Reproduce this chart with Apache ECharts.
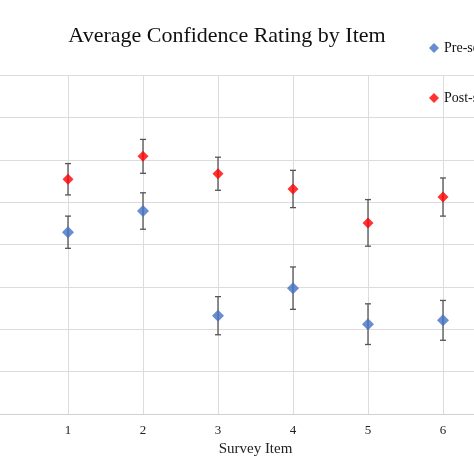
<!DOCTYPE html>
<html><head><meta charset="utf-8">
<script src="https://cdn.jsdelivr.net/npm/echarts@6/dist/echarts.min.js"></script>
<style>html,body{margin:0;background:#fff}#c{width:474px;height:474px}</style>
</head><body><div id="c"></div>
<script>
const items = [1, 2, 3, 4, 5, 6];
const preMean = [4.29, 4.79, 2.32, 2.97, 2.12, 2.21];
const preErr = [0.38, 0.43, 0.45, 0.5, 0.48, 0.47];
const postMean = [5.54, 6.08, 5.67, 5.31, 4.51, 5.12];
const postErr = [0.37, 0.4, 0.39, 0.44, 0.55, 0.45];

const font = "Liberation Serif";
const chart = echarts.init(document.getElementById("c"));

function errBars(mean, err) {
  return {
    type: "custom",
    silent: true,
    data: items.map((x, i) => [x, mean[i] - err[i], mean[i] + err[i]]),
    renderItem: (params, api) => {
      const lo = api.coord([api.value(0), api.value(1)]);
      const hi = api.coord([api.value(0), api.value(2)]);
      const s = { stroke: "#555", lineWidth: 1.3 };
      return {
        type: "group",
        children: [
          { type: "line", shape: { x1: lo[0], y1: lo[1], x2: hi[0], y2: hi[1] }, style: s },
          { type: "line", shape: { x1: lo[0] - 3, y1: lo[1], x2: lo[0] + 3, y2: lo[1] }, style: s },
          { type: "line", shape: { x1: hi[0] - 3, y1: hi[1], x2: hi[0] + 3, y2: hi[1] }, style: s }
        ]
      };
    },
    z: 1
  };
}

chart.setOption({
  animation: false,
  title: {
    text: "Average Confidence Rating by Item",
    left: 222, top: 20, textAlign: "center",
    textStyle: { fontFamily: font, fontWeight: "normal", fontSize: 22, color: "#111" }
  },
  legend: {
    orient: "vertical", left: 424, top: 36, itemGap: 36,
    icon: "diamond", itemWidth: 10, itemHeight: 10,
    data: ["Pre-session", "Post-session"],
    textStyle: { fontFamily: font, fontSize: 14, color: "#111" }
  },
  grid: { left: -7, width: 525, top: 75, bottom: 60, outerBoundsMode: "none", containLabel: false },
  xAxis: {
    type: "value", min: 0, max: 7, interval: 1,
    name: "Survey Item", nameLocation: "middle", nameGap: 28,
    nameTextStyle: { fontFamily: font, fontSize: 15, color: "#222" },
    axisLine: { lineStyle: { color: "#d0d0d0" } },
    axisTick: { show: false },
    axisLabel: { fontFamily: font, fontSize: 13, color: "#222", margin: 10 },
    splitLine: { lineStyle: { color: "#dcdcdc" } }
  },
  yAxis: {
    type: "value", min: 0, max: 8, interval: 1,
    axisLine: { show: false }, axisTick: { show: false }, axisLabel: { show: false },
    splitLine: { lineStyle: { color: "#dcdcdc" } }
  },
  series: [
    errBars(preMean, preErr),
    errBars(postMean, postErr),
    { name: "Pre-session", type: "scatter", symbol: "diamond", symbolSize: 12,
      itemStyle: { color: "#4472C4" }, data: items.map((x, i) => [x, preMean[i]]), z: 3 },
    { name: "Post-session", type: "scatter", symbol: "diamond", symbolSize: 11,
      itemStyle: { color: "#FF0000" }, data: items.map((x, i) => [x, postMean[i]]), z: 3 }
  ]
});
</script></body></html>
